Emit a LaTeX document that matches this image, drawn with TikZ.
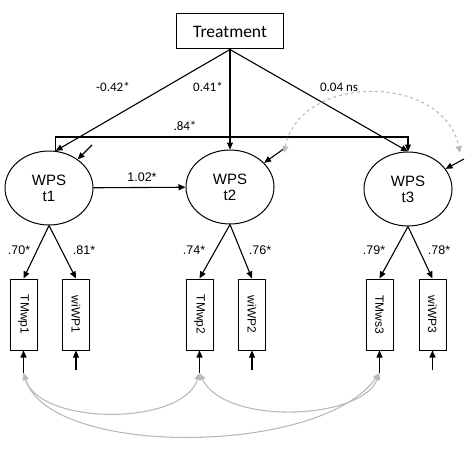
\documentclass[tikz,border=0pt]{standalone}
\usepackage{fontspec}
\setmainfont{Liberation Sans}
\newfontfamily\calfont{Carlito}
\usetikzlibrary{arrows.meta,shapes.geometric}

\begin{document}
\begin{tikzpicture}[x=1pt,y=-1pt,
   box/.style={rectangle,draw,line width=1pt,minimum width=27pt,
    minimum height=71pt,inner sep=0pt,font=\fontsize{12}{13}\selectfont},
   latent/.style={ellipse,draw,line width=1pt,minimum width=88pt,
    minimum height=74pt,inner sep=0pt,align=center,
    font=\fontsize{15}{16}\selectfont},
   lbl/.style={font=\fontsize{12.5}{13}\selectfont},
   toplbl/.style={font=\calfont\fontsize{13}{14}\selectfont},
   path/.style={-{Triangle[length=7pt,width=6pt]},line width=1.1pt},
   cov/.style={{Triangle[length=7pt,width=6pt]}-{Triangle[length=7pt,width=6pt]},
    line width=1.1pt,draw=black!27}
    ]
    \useasboundingbox (0,0) rectangle (474,452);

    % Treatment and latent factors:
    \node[rectangle,draw,line width=1pt,minimum width=107pt,minimum height=35pt,
      font=\calfont\fontsize{17.5}{19}\selectfont] at (230,31.5) (treat) {Treatment};
    \node[latent] at (49,188) (t1) {WPS\\t1};
    \node[latent] at (230,187) (t2) {WPS\\t2};
    \node[latent] at (408,189) (t3) {WPS\\t3};

    % Indicators:
    \node[box] at (23.5,314.5) (tm1) {\rotatebox{-90}{TMwp1}};
    \node[box] at (76,314.5) (wi1) {\rotatebox{-90}{wiWP1}};
    \node[box] at (199.5,314.5) (tm2) {\rotatebox{-90}{TMwp2}};
    \node[box] at (252,314.5) (wi2) {\rotatebox{-90}{wiWP2}};
    \node[box] at (379.5,314.5) (tm3) {\rotatebox{-90}{TMws3}};
    \node[box] at (432.5,314.5) (wi3) {\rotatebox{-90}{wiWP3}};

    % free ends:
    \coordinate (bar) at (230,137);
    \coordinate (e1) at (92,145);
    \coordinate (e2) at (285,148);
    \coordinate (e3) at (464,159);
    \coordinate (d2) at (284,153);
    \coordinate (d3) at (460,153);
    \coordinate (u1) at (23.5,373);
    \coordinate (v1) at (76,370);
    \coordinate (u2) at (199.5,373);
    \coordinate (v2) at (252,370);
    \coordinate (u3) at (379.5,373);
    \coordinate (v3) at (432.5,370);

    % structural paths
    \draw[path] (treat.south) -- (t1.80);
    \draw[path] (treat.south) -- (t2.north);
    \draw[path] (treat.south) -- (t3.north);
    \draw[path] (t1.80) |- (bar) -| (t3.north);
    \draw[path] (t1) -- (t2);

    \node[toplbl] at (113,87) {-0.42*};
    \node[toplbl] at (208,87) {0.41*};
    \node[toplbl] at (339,87) {0.04 ns};
    \node[toplbl] at (185,126) {.84*};
    \node[lbl] at (142,177) {1.02*};

    % disturbances
    \draw[path] (e1) -- (t1);
    \draw[path] (e2) -- (t2);
    \draw[path] (e3) -- (t3);
    \draw[cov,dashed] (d2) .. controls (300,73) and (444,73) .. (d3);

    % loadings
    \draw[path] (t1.south) -- (tm1.north);
    \draw[path] (t1.south) -- (wi1.north);
    \draw[path] (t2.south) -- (tm2.north);
    \draw[path] (t2.south) -- (wi2.north);
    \draw[path] (t3.south) -- (tm3.north);
    \draw[path] (t3.south) -- (wi3.north);

    \node[lbl] at (19,250) {.70*};
    \node[lbl] at (84,250) {.81*};
    \node[lbl] at (194,250) {.74*};
    \node[lbl] at (260,250) {.76*};
    \node[lbl] at (374,250) {.79*};
    \node[lbl] at (439,250) {.78*};

    % errors
    \draw[path] (u1) -- (tm1);
    \draw[path] (v1) -- (wi1);
    \draw[path] (u2) -- (tm2);
    \draw[path] (v2) -- (wi2);
    \draw[path] (u3) -- (tm3);
    \draw[path] (v3) -- (wi3);

    % error covariances
    \draw[cov] (u1) .. controls (40,426) and (183,426) .. (u2);
    \draw[cov] (u2) .. controls (225,426) and (362,420) .. (u3);
    \draw[cov] (u1) .. controls (50,458) and (320,456) .. (u3);

\end{tikzpicture}
\end{document}
